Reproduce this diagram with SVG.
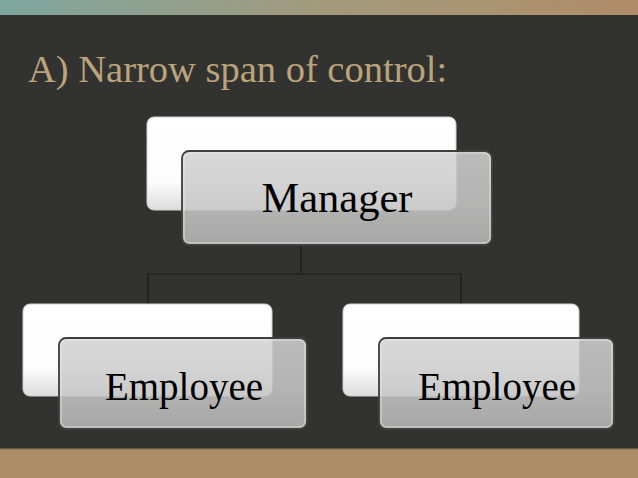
<svg xmlns="http://www.w3.org/2000/svg" width="638" height="478" viewBox="0 0 638 478">
  <defs>
    <linearGradient id="topband" x1="0" y1="0" x2="1" y2="0">
      <stop offset="0" stop-color="#7ea79f"/>
      <stop offset="0.5" stop-color="#a29a7c"/>
      <stop offset="1" stop-color="#b08d68"/>
    </linearGradient>
    <linearGradient id="backfill" x1="0" y1="0" x2="0" y2="1">
      <stop offset="0" stop-color="#ffffff"/>
      <stop offset="0.7" stop-color="#fcfcfc"/>
      <stop offset="1" stop-color="#dcdcdc"/>
    </linearGradient>
    <linearGradient id="frontfill" x1="0" y1="0" x2="0" y2="1">
      <stop offset="0" stop-color="#d2d2d2"/>
      <stop offset="0.6" stop-color="#c8c8c8"/>
      <stop offset="1" stop-color="#bababa"/>
    </linearGradient>
    <style>
      .back { fill: url(#backfill); stroke: #d0d0d0; stroke-width: 1; }
      .front { fill: url(#frontfill); fill-opacity: 0.86; stroke: #3e3e3e; stroke-width: 1.8; }
      .hl { fill: none; stroke: #f0f0f0; stroke-opacity: 0.7; stroke-width: 1; }
      .lbl { font-family: "Liberation Serif", "Times New Roman", serif; fill: #000; text-anchor: middle; }
      .conn { fill: none; stroke: #1a1a1a; stroke-width: 1.2; }
    </style>
  </defs>

  <rect x="0" y="0" width="638" height="478" fill="#323230"/>
  <rect x="0" y="0" width="638" height="15" fill="url(#topband)"/>
  <rect x="0" y="449" width="638" height="29" fill="#ad8c68"/>
  <rect x="0" y="448" width="638" height="2" fill="#8a7256" opacity="0.6"/>

  <text x="28" y="82" font-family="Liberation Serif, 'Times New Roman', serif" font-size="38.5" fill="#bba47a">A) Narrow span of control:</text>

  <g id="connectors">
    <path class="conn" d="M301 245 V274 M148 305 V274 H461 V305"/>
  </g>

  <g id="manager">
    <rect class="back" x="147" y="117" width="309" height="93" rx="7"/>
    <rect class="front" x="182" y="151" width="310" height="94" rx="7"/>
    <rect class="hl" x="184" y="153" width="306" height="90" rx="6"/>
    <text class="lbl" x="337" y="212" font-size="42.5">Manager</text>
  </g>

  <g id="employee1">
    <rect class="back" x="23" y="304" width="249" height="92" rx="7"/>
    <rect class="front" x="59" y="338" width="248" height="91" rx="7"/>
    <rect class="hl" x="61" y="340" width="244" height="87" rx="6"/>
    <text class="lbl" x="184" y="400" font-size="39">Employee</text>
  </g>

  <g id="employee2">
    <rect class="back" x="343" y="304" width="236" height="92" rx="7"/>
    <rect class="front" x="379" y="338" width="235" height="91" rx="7"/>
    <rect class="hl" x="381" y="340" width="231" height="87" rx="6"/>
    <text class="lbl" x="497" y="400" font-size="39">Employee</text>
  </g>
</svg>
